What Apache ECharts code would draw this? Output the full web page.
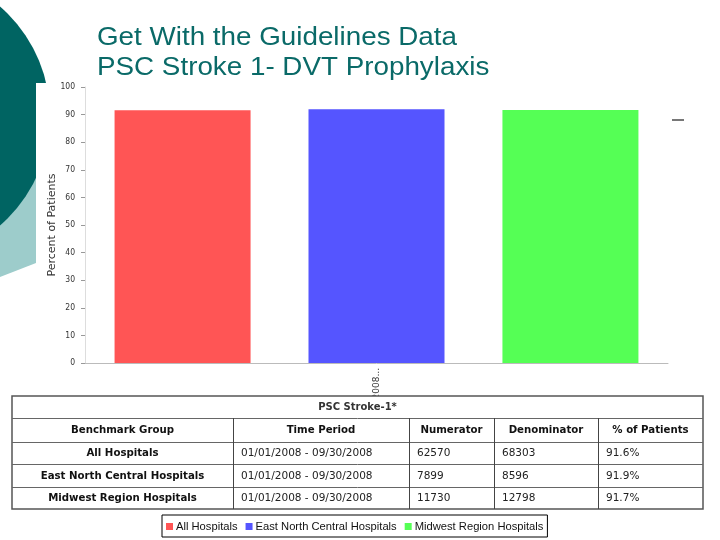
<!DOCTYPE html>
<html><head><meta charset="utf-8">
<script src="https://cdn.jsdelivr.net/npm/echarts@6/dist/echarts.min.js"></script>
<style>html,body{margin:0;padding:0;background:#fff}#c{width:720px;height:540px}</style>
</head><body><div id="c"></div>
<script>
// ---- data ----
const titleLines = ['Get With the Guidelines Data', 'PSC Stroke 1- DVT Prophylaxis'];
const categories = ['01/01/2008...'];
const seriesNames = ['All Hospitals', 'East North Central Hospitals', 'Midwest Region Hospitals'];
const percentValues = [91.6, 91.9, 91.7];
const seriesColors = ['#ff5555', '#5555ff', '#55ff55'];
const yAxisName = 'Percent of Patients';
const yMin = 0, yMax = 100, yInterval = 10;
const tableTitle = 'PSC Stroke-1*';
const tableHeaders = ['Benchmark Group', 'Time Period', 'Numerator', 'Denominator', '% of Patients'];
const timePeriods = ['01/01/2008 - 09/30/2008', '01/01/2008 - 09/30/2008', '01/01/2008 - 09/30/2008'];
const numerators = ['62570', '7899', '11730'];
const denominators = ['68303', '8596', '12798'];
const percentLabels = ['91.6%', '91.9%', '91.7%'];

// ---- layout ----
const colX = [12, 233, 409, 494, 598, 703];
const rowY = [396, 418, 442, 464, 487, 509];
const tableFont = '"DejaVu Sans", Verdana, sans-serif';

const graphics = [];
// slide decoration
graphics.push({ type: 'polygon', z: -10, shape: { points: [[0,130],[36,130],[36,263],[27,266.5],[18,270],[9,273.5],[0,277]] }, style: { fill: '#9dcccb' } });
graphics.push({ type: 'circle', z: -9, shape: { cx: -95, cy: 116, r: 145 }, style: { fill: '#006462' } });
graphics.push({ type: 'rect', z: -8, shape: { x: 36, y: 83, width: 700, height: 460 }, style: { fill: '#fff' } });
// title
titleLines.forEach((t, i) => {
  graphics.push({ type: 'text', z: 5, x: 97, y: 25 + i * 30, scaleX: 1.09,
    style: { text: t, fill: '#0a6a68', font: '25.5px "Liberation Sans", Arial, sans-serif', align: 'left', verticalAlign: 'top' } });
});
// small dash at right
graphics.push({ type: 'line', z: 5, shape: { x1: 672, y1: 120, x2: 684, y2: 120 }, style: { stroke: '#777', lineWidth: 2 } });

// table
graphics.push({ type: 'rect', z: 50, shape: { x: colX[0], y: rowY[0], width: colX[5] - colX[0], height: rowY[5] - rowY[0] },
  style: { fill: '#fff', stroke: '#555', lineWidth: 1.5 } });
for (let r = 1; r < rowY.length - 1; r++) {
  graphics.push({ type: 'line', z: 51, shape: { x1: colX[0], y1: rowY[r] + 0.5, x2: colX[5], y2: rowY[r] + 0.5 }, style: { stroke: '#666', lineWidth: 1 } });
}
for (let c = 1; c < colX.length - 1; c++) {
  graphics.push({ type: 'line', z: 51, shape: { x1: colX[c] + 0.5, y1: rowY[1], x2: colX[c] + 0.5, y2: rowY[5] }, style: { stroke: '#444', lineWidth: 1 } });
}
function cellText(text, row, col, bold, align, color) {
  const x = align === 'center' ? (colX[col] + colX[col + 1]) / 2 : colX[col] + 8;
  const y = (rowY[row] + rowY[row + 1]) / 2 + 0.5;
  graphics.push({ type: 'text', z: 52, x: x, y: y,
    style: { text: text, fill: color || '#111', font: (bold ? 'bold 10.2px ' : '10.5px ') + tableFont, align: align, verticalAlign: 'middle' } });
}
graphics.push({ type: 'text', z: 52, x: (colX[0] + colX[5]) / 2, y: (rowY[0] + rowY[1]) / 2 + 0.5,
  style: { text: tableTitle, fill: '#333', font: 'bold 10px ' + tableFont, align: 'center', verticalAlign: 'middle' } });
tableHeaders.forEach((h, c) => cellText(h, 1, c, true, 'center'));
seriesNames.forEach((n, i) => {
  cellText(n, 2 + i, 0, true, 'center');
  cellText(timePeriods[i], 2 + i, 1, false, 'left', '#222');
  cellText(numerators[i], 2 + i, 2, false, 'left', '#222');
  cellText(denominators[i], 2 + i, 3, false, 'left', '#222');
  cellText(percentLabels[i], 2 + i, 4, false, 'left', '#222');
});

const chart = echarts.init(document.getElementById('c'), null, { renderer: 'canvas' });
chart.setOption({
  animation: false,
  backgroundColor: '#fff',
  grid: { left: 85, top: 87, right: 52, bottom: 177, containLabel: false },
  legend: {
    data: seriesNames, left: 162, top: 515,
    icon: 'rect', itemWidth: 7, itemHeight: 7, itemGap: 8,
    borderColor: '#000', borderWidth: 1, padding: [6, 4, 5, 4],
    textStyle: { fontFamily: '"Liberation Sans", Arial, sans-serif', fontSize: 11.2, color: '#111', padding: [0, 0, 0, -2] }
  },
  xAxis: {
    type: 'category', data: categories,
    axisLine: { lineStyle: { color: '#bbb' } },
    axisTick: { show: false },
    axisLabel: { rotate: 90, margin: 5, fontFamily: '"DejaVu Sans", sans-serif', fontSize: 9, color: '#333' }
  },
  yAxis: {
    type: 'value', min: yMin, max: yMax, interval: yInterval,
    name: yAxisName, nameLocation: 'middle', nameGap: 27, nameMoveOverlap: false,
    nameTextStyle: { fontFamily: '"DejaVu Sans", sans-serif', fontSize: 11, color: '#333' },
    axisLine: { show: true, lineStyle: { color: '#ddd' } },
    axisTick: { show: true, length: 4, lineStyle: { color: '#999' } },
    splitLine: { show: false },
    axisLabel: { margin: 10, fontFamily: '"Liberation Sans Narrow", "DejaVu Sans Condensed", sans-serif', fontSize: 8.5, color: '#333' }
  },
  series: seriesNames.map((n, i) => ({
    name: n, type: 'bar', data: [percentValues[i]],
    barWidth: 136, barGap: '42.6%',
    itemStyle: { color: seriesColors[i] }
  })),
  graphic: { elements: graphics }
});
</script></body></html>
